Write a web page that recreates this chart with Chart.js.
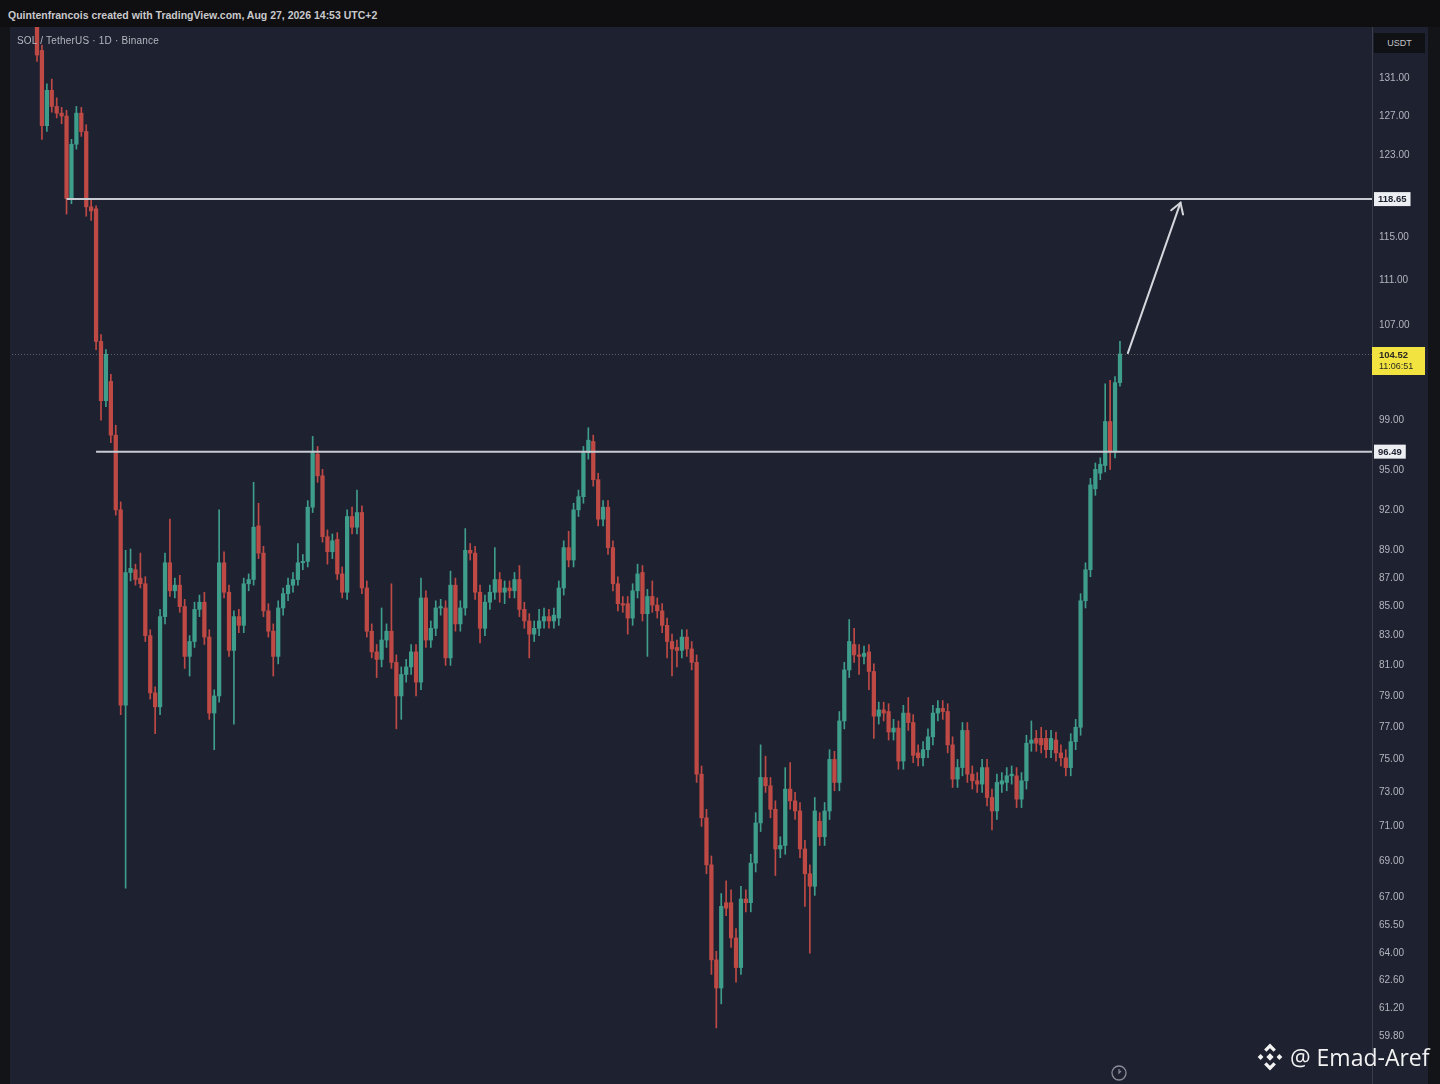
<!DOCTYPE html>
<html><head><meta charset="utf-8">
<script src="https://cdn.jsdelivr.net/npm/chart.js@4.4.1/dist/chart.umd.min.js"></script>
<style>
html,body{margin:0;padding:0;background:#1e2130;}
#wrap{position:relative;width:1440px;height:1084px;overflow:hidden;background:#1e2130;}
#c{position:absolute;left:0;top:0;}
.ov{position:absolute;z-index:2;}
#hdr{left:0;top:0;width:1440px;height:27px;background:#0f0f11;}
#hdrtxt{left:8px;top:9px;font:bold 10.5px "Liberation Sans",Arial,sans-serif;color:#c9c9cc;white-space:nowrap;}
#lstrip{left:0;top:27px;width:10px;height:1057px;background:#131418;}
#rstrip{left:1428px;top:27px;width:12px;height:1057px;background:#131418;}
#sym{left:17px;top:35px;font:10px "Liberation Sans",Arial,sans-serif;color:#b4b7c0;white-space:nowrap;letter-spacing:0.2px;}
#usdt{left:1374px;top:33px;width:51px;height:20px;background:#101114;color:#c4c6cc;font:9px "Liberation Sans",Arial,sans-serif;line-height:20px;text-align:center;}
#wm{left:1255px;top:1040px;height:34px;display:flex;align-items:center;color:#f2f2f2;font:23px "Open Sans",sans-serif;white-space:nowrap;}
#wm svg{margin-right:5px;}
#ico{left:1110px;top:1064px;}
</style></head>
<body><div id="wrap">
<canvas id="c" width="1440" height="1084"></canvas>
<div class="ov" id="hdr"></div>
<div class="ov" id="hdrtxt">Quintenfrancois created with TradingView.com, Aug 27, 2026 14:53 UTC+2</div>
<div class="ov" id="lstrip"></div>
<div class="ov" id="rstrip"></div>
<div class="ov" id="sym">SOL / TetherUS · 1D · Binance</div>
<div class="ov" id="usdt">USDT</div>
<div class="ov" id="ico"><svg width="18" height="18"><circle cx="9" cy="9" r="7" fill="none" stroke="#8a8d96" stroke-width="1.3"/><path d="M9 5 L9 9 L11 7" stroke="#8a8d96" stroke-width="1.2" fill="none"/></svg></div>
<div class="ov" id="wm"><svg width="30" height="30" viewBox="0 0 28 28"><g fill="#f2f2f2">
<polygon points="14,1.5 19.5,7 17.3,9.2 14,5.9 10.7,9.2 8.5,7"/>
<polygon points="14,26.5 8.5,21 10.7,18.8 14,22.1 17.3,18.8 19.5,21"/>
<polygon points="2.5,14 5.2,11.3 7.9,14 5.2,16.7"/>
<polygon points="25.5,14 22.8,11.3 20.1,14 22.8,16.7"/>
<polygon points="14,10.6 17.4,14 14,17.4 10.6,14"/>
</g></svg><span>@ Emad-Aref</span></div>
</div>
<script>
// ---- data (SOL/USDT daily candles) ----
const openP = [136.8,134.0,126.0,129.7,128.0,127.3,127.0,118.7,124.1,127.3,125.4,117.9,117.7,105.6,100.6,102.2,97.8,92.0,78.4,87.4,
87.6,87.0,86.6,83.0,79.2,78.3,84.3,88.1,86.1,86.5,85.0,81.6,82.6,84.8,85.3,82.9,77.9,79.0,88.1,86.0,
82.0,84.3,83.7,86.6,86.9,90.8,88.8,84.7,83.3,81.6,84.9,85.9,86.5,86.9,88.1,88.2,92.2,96.3,94.6,90.0,
88.9,89.8,87.3,86.0,91.5,90.7,91.8,86.3,83.3,81.9,81.4,82.7,83.3,81.2,79.0,80.4,80.9,81.9,79.9,85.6,
82.7,83.5,84.9,84.9,81.5,86.5,83.8,84.9,89.0,88.8,86.0,83.5,85.3,86.0,86.9,86.0,86.3,86.1,86.9,84.8,
84.0,83.1,83.5,84.0,84.3,84.0,84.2,86.3,89.2,88.3,92.0,93.0,96.4,97.3,94.3,91.3,92.2,89.2,86.6,85.2,
85.2,84.2,86.1,87.4,84.5,85.7,85.1,84.7,83.7,82.6,82.2,82.0,82.9,82.1,81.2,74.1,71.5,68.8,63.65,62.2,
66.7,66.7,64.8,63.25,66.9,66.7,68.9,71.2,73.9,73.4,72.0,69.7,69.9,73.2,72.5,71.9,69.7,68.3,67.6,71.3,
70.4,71.9,75.0,73.6,77.4,80.7,82.4,81.7,81.6,81.9,80.6,77.7,78.1,78.0,76.7,76.95,74.9,77.9,77.3,75.4,
75.1,75.6,76.4,77.9,78.2,78.0,75.9,73.8,74.5,76.8,74.1,73.7,73.5,74.5,72.7,71.9,73.5,73.6,74.0,74.0,
72.6,73.7,76.0,76.3,76.3,76.3,75.6,76.2,75.4,75.1,74.5,76.1,77.0,85.4,87.6,93.6,94.8,95.4,98.9,96.5,
102.1];
const highP = [138.0,134.6,130.4,130.9,128.9,127.9,127.6,124.6,128.0,127.9,126.1,118.6,118.0,106.2,104.9,102.8,98.6,92.6,89.0,89.1,
88.0,88.8,87.1,83.4,79.6,84.8,88.8,91.3,87.0,87.2,85.5,83.0,85.3,85.8,86.0,83.4,79.4,92.0,88.9,86.5,
84.7,84.8,87.0,87.3,94.1,92.5,89.3,85.2,83.8,85.4,86.3,87.0,87.4,89.5,88.7,92.7,97.7,96.9,95.1,90.5,
90.2,90.3,87.8,92.0,92.2,93.5,92.3,86.8,83.8,82.4,84.9,83.8,86.6,81.7,80.9,81.4,82.4,82.4,87.0,86.1,
84.0,85.4,85.5,85.4,87.5,87.0,85.4,90.6,89.5,89.3,86.5,85.8,86.5,89.2,87.4,86.8,86.8,87.4,87.9,85.3,
84.5,84.0,84.8,84.9,84.8,84.9,86.8,89.7,90.4,92.5,93.5,96.9,98.4,97.8,94.8,92.7,92.7,89.7,87.1,85.7,
85.7,86.6,88.0,87.9,86.2,86.8,85.6,85.2,84.2,83.1,82.7,83.4,83.4,82.6,81.7,74.6,72.0,69.3,64.1,67.2,
67.9,67.4,65.3,67.6,67.4,69.4,71.8,75.9,75.2,73.9,72.5,70.4,74.5,74.8,73.0,72.4,70.2,68.8,72.7,71.8,
72.4,75.6,75.5,78.0,81.2,84.1,83.5,82.4,82.3,82.4,81.1,78.6,78.6,78.5,77.5,77.4,78.4,78.9,77.8,75.9,
76.1,76.9,78.4,78.7,78.7,78.5,76.4,75.0,77.3,77.3,74.6,74.2,75.0,75.0,73.2,74.1,74.2,74.5,74.6,74.5,
74.2,76.5,77.4,76.8,77.0,76.8,76.8,76.7,75.9,75.6,76.6,77.5,85.9,88.1,94.4,95.6,96.0,102.0,102.3,102.6,
105.6];
const lowP = [132.8,124.6,125.4,127.4,126.8,126.2,117.2,118.2,123.6,124.9,117.0,116.6,104.9,99.0,100.1,97.2,91.6,77.8,67.5,86.8,
86.5,86.3,82.6,78.8,76.6,77.8,83.8,85.7,85.6,84.6,80.8,80.3,82.2,84.3,82.4,77.5,75.6,78.6,85.6,81.6,
77.2,83.2,83.2,86.1,86.5,88.4,84.3,82.9,80.3,81.1,84.4,85.4,86.0,86.5,87.6,87.8,91.8,94.1,89.6,88.0,
88.4,86.9,85.6,85.5,90.2,90.2,85.9,82.9,81.5,80.2,80.9,82.2,80.8,76.9,77.5,79.9,80.4,79.0,79.4,82.2,
82.2,83.0,84.4,81.0,81.0,83.3,83.3,84.4,88.3,85.5,82.5,83.0,84.8,85.5,85.3,85.2,85.6,85.6,84.3,83.5,
81.5,82.6,83.0,83.5,83.5,83.5,83.7,85.8,87.8,87.8,91.5,92.5,95.9,93.8,90.8,90.8,88.7,86.1,84.7,84.6,
83.1,83.7,85.6,84.0,81.6,84.6,84.2,83.2,81.5,80.3,80.9,81.5,81.6,80.7,73.6,71.0,68.3,62.9,60.2,61.4,
66.0,64.3,62.5,62.9,66.2,66.2,68.4,70.7,73.0,71.5,68.2,69.2,69.4,72.0,71.4,69.2,66.5,64.0,67.1,69.9,
69.9,71.4,73.1,73.1,76.9,80.2,81.2,80.4,81.1,79.4,76.3,77.2,77.4,76.2,76.2,74.4,74.4,76.8,74.8,74.6,
74.6,75.1,75.9,77.4,77.5,75.4,73.3,73.3,74.0,73.6,73.2,73.0,73.0,72.2,70.8,71.4,73.0,73.1,73.5,72.1,
72.1,73.2,75.5,75.5,75.4,75.1,75.1,74.9,74.6,74.0,74.0,75.6,76.5,84.9,87.1,93.1,94.3,94.9,95.1,96.0,
101.8];
const closeP = [133.5,126.0,129.7,128.0,127.3,127.0,118.7,124.1,127.3,125.4,117.9,117.5,105.6,100.6,104.5,97.8,92.0,78.4,87.4,87.7,
86.9,86.6,83.0,79.2,78.3,84.3,88.1,86.1,86.5,85.0,81.6,82.6,84.8,85.3,82.9,77.9,79.0,88.1,86.0,82.0,
84.3,83.7,86.6,86.9,90.7,88.8,84.7,83.3,81.6,84.9,85.9,86.5,86.9,88.1,88.2,92.2,96.4,94.6,90.0,88.9,
89.7,87.3,86.0,91.5,90.7,91.8,86.3,83.3,81.9,81.4,82.7,83.3,81.2,79.0,80.4,80.9,81.9,79.9,85.6,82.7,
83.5,84.9,85.0,81.5,86.5,83.8,84.9,89.0,88.8,86.0,83.5,85.3,86.0,86.9,86.0,86.3,86.1,86.9,84.8,84.0,
83.1,83.5,84.0,84.3,84.0,84.4,86.3,89.2,88.3,92.0,93.0,96.4,97.4,94.3,91.3,92.2,89.2,86.6,85.2,85.1,
84.2,86.1,87.3,84.5,85.7,85.1,84.7,83.7,82.6,82.1,82.0,82.9,82.1,81.2,74.1,71.5,68.8,63.65,62.2,66.5,
66.4,64.8,63.25,66.9,66.7,68.9,71.2,73.9,73.4,72.0,69.7,69.9,73.2,72.5,71.9,69.7,68.3,67.6,71.9,70.4,
71.9,75.0,73.6,77.4,80.7,82.6,81.7,81.6,81.8,80.6,77.7,78.1,77.9,76.7,76.95,74.9,77.9,77.3,75.25,75.1,
75.6,76.4,77.9,78.2,78.0,75.9,73.8,74.5,76.8,74.1,73.7,73.5,74.5,72.7,71.9,73.6,73.7,74.0,74.1,72.6,
73.7,76.0,76.2,76.0,75.9,75.6,76.3,75.4,75.1,74.5,76.1,77.0,85.4,87.6,93.9,95.1,95.5,98.9,96.5,102.1,
104.52];

const tickValues = [131,127,123,115,111,107,99,95,92,89,87,85,83,81,79,77,75,73,71,69,67,65.5,64,62.6,61.2,59.8];
const levelPrices = [118.65, 96.49];
const levelStartCandle = [6, 12];
const lastPrice = 104.52;
const countdown = "11:06:51";
const arrowFrom = {candle: 221.6, price: 104.6};
const arrowTo = {candle: 232.3, price: 118.3};

const UP = '#3f9e8b', DOWN = '#bf4a45';
const colors = openP.map((o,i)=> closeP[i] >= o ? UP : DOWN);
const wickData = openP.map((o,i)=>({x:i, y:[lowP[i], highP[i]]}));
const bodyData = openP.map((o,i)=>({x:i, y:[o, closeP[i]]}));

const overlay = {
  id:'overlay',
  beforeDraw(chart){
    const c = chart.ctx;
    c.save(); c.fillStyle = '#1e2130'; c.fillRect(0,0,chart.width,chart.height); c.restore();
  },
  afterDatasetsDraw(chart){
    const c = chart.ctx, x = chart.scales.x, y = chart.scales.y, a = chart.chartArea;
    c.save();
    const yp = Math.round(y.getPixelForValue(lastPrice)) + 0.5;
    c.strokeStyle = 'rgba(150,150,140,0.55)'; c.lineWidth = 1; c.setLineDash([1,2]);
    c.beginPath(); c.moveTo(a.left, yp); c.lineTo(a.right, yp); c.stroke();
    c.setLineDash([]);
    c.strokeStyle = '#c9cbd2'; c.lineWidth = 2;
    levelPrices.forEach((p,k)=>{
      const yy = y.getPixelForValue(p);
      c.beginPath(); c.moveTo(x.getPixelForValue(levelStartCandle[k]), yy); c.lineTo(a.right, yy); c.stroke();
    });
    const x1 = x.getPixelForValue(arrowFrom.candle), y1 = y.getPixelForValue(arrowFrom.price);
    const x2 = x.getPixelForValue(arrowTo.candle), y2 = y.getPixelForValue(arrowTo.price);
    c.strokeStyle = '#d5d7dc'; c.lineWidth = 2; c.lineCap = 'round';
    c.beginPath(); c.moveTo(x1,y1); c.lineTo(x2,y2); c.stroke();
    const ang = Math.atan2(y2-y1, x2-x1), L = 12;
    c.beginPath();
    c.moveTo(x2 - L*Math.cos(ang-0.55), y2 - L*Math.sin(ang-0.55)); c.lineTo(x2,y2);
    c.lineTo(x2 - L*Math.cos(ang+0.55), y2 - L*Math.sin(ang+0.55)); c.stroke();
    c.restore();
  },
  afterDraw(chart){
    const c = chart.ctx, y = chart.scales.y, a = chart.chartArea;
    c.save();
    c.font = 'bold 9.5px "Liberation Sans", Arial, sans-serif';
    c.textBaseline = 'middle';
    levelPrices.forEach(p=>{
      const yy = y.getPixelForValue(p);
      const t = p.toFixed(2), w = c.measureText(t).width + 8;
      c.fillStyle = '#eceef2'; c.fillRect(a.right+2, yy-7, w, 14);
      c.fillStyle = '#1e2130'; c.fillText(t, a.right+6, yy+0.5);
    });
    const yp = y.getPixelForValue(lastPrice);
    c.fillStyle = '#f2e341'; c.fillRect(a.right, yp-7, 53, 28);
    c.fillStyle = '#2a2a20';
    c.fillText(lastPrice.toFixed(2), a.right+7, yp+1);
    c.font = '9px "Liberation Sans", Arial, sans-serif';
    c.fillText(countdown, a.right+7, yp+13);
    c.restore();
  }
};

new Chart(document.getElementById('c'), {
  type:'bar',
  data:{ datasets:[
    {data:wickData, backgroundColor:colors, barThickness:1, grouped:false, order:2},
    {data:bodyData, backgroundColor:colors, barThickness:3.6, grouped:false, minBarLength:1, order:1}
  ]},
  options:{
    responsive:false, animation:false, devicePixelRatio:1,
    layout:{padding:{left:12, top:27, right:0, bottom:0}},
    plugins:{legend:{display:false}, tooltip:{enabled:false}},
    scales:{
      x:{type:'linear', display:false, offset:false, min:-5.08, max:271.2, grid:{display:false, offset:false}},
      y:{type:'logarithmic', position:'right', min:57.5, max:136.6,
        afterBuildTicks:s=>{ s.ticks = tickValues.map(v=>({value:v})); },
        afterFit:s=>{ s.width = 68; s.paddingTop = 0; s.paddingBottom = 0; },
        ticks:{autoSkip:false, padding:7, color:'#b3b6be', font:{size:10, family:'"Liberation Sans", Arial, sans-serif'},
          callback:v=>Number(v).toFixed(2)},
        grid:{display:false, drawTicks:false},
        border:{display:true, color:'#3b3e4a', width:1}
      }
    }
  },
  plugins:[overlay]
});
</script>
</body></html>
